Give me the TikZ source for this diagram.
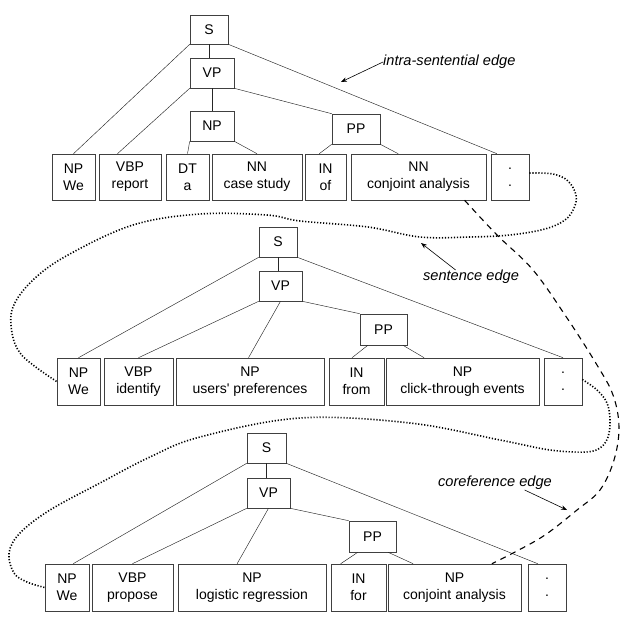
\documentclass[tikz,border=0pt]{standalone}
\usepackage{fontspec}
\setmainfont{Liberation Sans}
\usetikzlibrary{calc,arrows.meta}
\newcommand\tbox[6]{\node[tb, minimum width={#4-#2}, minimum height={#5-#3}] (#1) at ({(#2+#4)/2},{(#3+#5)/2}) {#6};}
\tikzset{
 tb/.style={draw=black!75, line width=0.6pt, fill=white, inner sep=0pt, align=center, font=\fontsize{14}{17}\selectfont},
 tedge/.style={draw=black!85, line width=0.45pt},
 sentedge/.style={draw=black, line width=1.6pt, dash pattern=on 1.2pt off 1.8pt},
 corefedge/.style={draw=black, line width=1.1pt, dash pattern=on 6pt off 5pt},
 lab/.style={font=\fontsize{14.6}{17}\selectfont\itshape, inner sep=0pt},
 labarrow/.style={draw=black, line width=0.6pt, -{Stealth[length=6pt,width=4.5pt]}},
}
\begin{document}
\begin{tikzpicture}[x=1pt,y=-1pt]
\useasboundingbox (0,0) rectangle (624,624);
% ---------- tree 1
\tbox{S1}{190}{15}{228}{44}{S}
\tbox{VP1}{190}{58}{234}{88}{VP}
\tbox{NPm1}{190}{111}{234}{141}{NP}
\tbox{PP1}{332}{114}{380}{144}{PP}
\tbox{a1}{52}{154}{95}{200}{NP\\We}
\tbox{b1}{99}{154}{161}{200}{VBP\\report}
\tbox{c1}{166}{154}{209}{200}{DT\\a}
\tbox{d1}{212}{154}{302}{200}{NN\\case study}
\tbox{e1}{305}{154}{346}{200}{IN\\of}
\tbox{f1}{351}{154}{486}{200}{NN\\conjoint analysis}
\tbox{g1}{491}{154}{529}{200}{.\\.}
\draw[tedge] (S1.south west) -- (a1.north);
\draw[tedge] (S1.south east) -- ($(g1.north west)!0.16!(g1.north east)$);
\draw[tedge] (S1.south) -- (S1.south |- VP1.north);
\draw[tedge] (VP1.south west) -- ($(b1.north west)!0.3!(b1.north east)$);
\draw[tedge] (VP1.south) -- (VP1.south |- NPm1.north);
\draw[tedge] (VP1.south east) -- (PP1.north west);
\draw[tedge] (NPm1.south west) -- (c1.north);
\draw[tedge] (NPm1.south east) -- (d1.north);
\draw[tedge] (PP1.south west) -- ($(e1.north west)!0.35!(e1.north east)$);
\draw[tedge] (PP1.south east) -- ($(f1.north west)!0.35!(f1.north east)$);
% ---------- tree 2
\tbox{S2}{259}{227}{297}{257}{S}
\tbox{VP2}{259}{271}{302}{301}{VP}
\tbox{PP2}{360}{314}{407}{345}{PP}
\tbox{a2}{57}{358}{100}{405}{NP\\We}
\tbox{b2}{104}{358}{173}{405}{VBP\\identify}
\tbox{c2}{176}{358}{324}{405}{NP\\users\textquotesingle{} preferences}
\tbox{d2}{329}{358}{384}{405}{IN\\from}
\tbox{e2}{386}{358}{539}{405}{NP\\click-through events}
\tbox{f2}{544}{358}{582}{405}{.\\.}
\draw[tedge] (S2.south west) -- (a2.north);
\draw[tedge] (S2.south east) -- (f2.north);
\draw[tedge] (S2.south) -- (S2.south |- VP2.north);
\draw[tedge] (VP2.south west) -- (b2.north);
\draw[tedge] (VP2.south) -- ($(c2.north west)!0.49!(c2.north east)$);
\draw[tedge] (VP2.south east) -- (PP2.north west);
\draw[tedge] ($(PP2.south west)!0.17!(PP2.south east)$) -- ($(d2.north west)!0.42!(d2.north east)$);
\draw[tedge] ($(PP2.south west)!0.91!(PP2.south east)$) -- ($(e2.north west)!0.25!(e2.north east)$);
% ---------- tree 3
\tbox{S3}{247}{433}{286}{463}{S}
\tbox{VP3}{247}{478}{290}{508}{VP}
\tbox{PP3}{349}{521}{396}{552}{PP}
\tbox{a3}{45}{564}{89}{611}{NP\\We}
\tbox{b3}{92}{564}{173}{611}{VBP\\propose}
\tbox{c3}{178}{564}{326}{611}{NP\\logistic regression}
\tbox{d3}{331}{564}{386}{611}{IN\\for}
\tbox{e3}{388}{564}{521}{611}{NP\\conjoint analysis}
\tbox{f3}{528}{564}{566}{611}{.\\.}
\draw[tedge] (S3.south west) -- ($(a3.north west)!0.64!(a3.north east)$);
\draw[tedge] (S3.south east) -- ($(f3.north west)!0.26!(f3.north east)$);
\draw[tedge] (S3.south) -- (S3.south |- VP3.north);
\draw[tedge] (VP3.south west) -- (b3.north);
\draw[tedge] (VP3.south) -- ($(c3.north west)!0.4!(c3.north east)$);
\draw[tedge] (VP3.south east) -- (PP3.north west);
\draw[tedge] ($(PP3.south west)!0.19!(PP3.south east)$) -- ($(d3.north west)!0.18!(d3.north east)$);
\draw[tedge] ($(PP3.south west)!0.83!(PP3.south east)$) -- ($(e3.north west)!0.19!(e3.north east)$);
% ---------- labels
\node[lab, anchor=west] (L1) at (383,62) {intra-sentential edge};
\coordinate (T1) at (341,82);
\draw[labarrow] (L1.west) -- (T1);
\node[lab] (L2) at (471,277) {sentence edge};
\coordinate (T2) at (421,243);
\draw[labarrow] ($(L2.north west)!0.34!(L2.north east)$) -- (T2);
\node[lab] (L3) at (495,483) {coreference edge};
\coordinate (T3) at (567,510);
\draw[labarrow] ($(L3.south west)!0.76!(L3.south east)$) -- (T3);
% ---------- sentence edges
\coordinate (s1a) at ([yshift=4pt]g1.east);
\draw[sentedge] plot[smooth, tension=0.6] coordinates {(s1a) (553,174) (568,181) (576,195) (574,208) (565,220) (545,229) (510,235) (470,237) (420,237) (368,227) (300,221) (267,215) (200,214) (133,225) (68,255) (33,280) (13,307) (12,333) (20,353) (37,368) (a2.west)};
\coordinate (s2a) at ([yshift=2pt]f2.east);
\draw[sentedge] plot[smooth, tension=0.6] coordinates {(s2a) (597,390) (607,403) (610,420) (608,437) (600,448) (585,452) (550,450) (500,440) (410,423) (300,418) (200,437) (150,457) (100,483) (50,510) (20,533) (9,553) (14,573) (27,582) (a3.west)};
% ---------- coreference edge
\coordinate (c1a) at ($(f1.south west)!0.84!(f1.south east)$);
\coordinate (c1b) at ($(e3.north west)!0.78!(e3.north east)$);
\draw[corefedge] plot[smooth, tension=0.6] coordinates {(c1a) (497,235) (533,270) (567,318) (597,365) (613,395) (619,427) (614,460) (600,490) (577,510) (545,535) (515,552) (c1b)};
\end{tikzpicture}
\end{document}
